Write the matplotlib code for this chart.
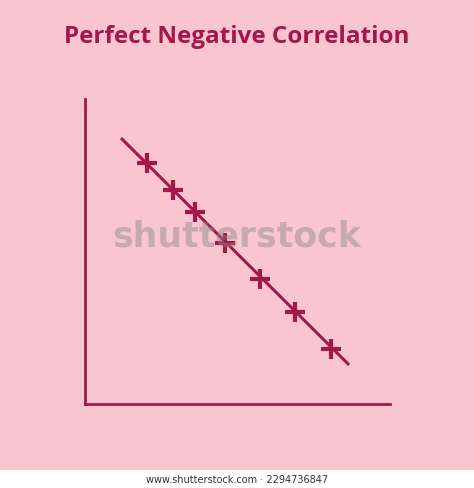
import matplotlib
matplotlib.use("Agg")
import matplotlib.pyplot as plt
from matplotlib.patches import Rectangle

title = "Perfect Negative Correlation"
xs = [2.03, 2.89, 3.61, 4.59, 5.74, 6.89, 8.07]
ys = [7.90, 7.02, 6.30, 5.28, 4.10, 3.02, 1.81]
line_x = [1.18, 8.66]
line_y = [8.72, 1.28]

col = "#A3174A"
bg = "#F9C6CF"
fig = plt.figure(figsize=(4.74, 4.89), dpi=100, facecolor=bg)
ax = fig.add_axes([85/474, 84/489, 305/474, 305/489])
ax.set_facecolor(bg)
ax.set_xlim(0, 10); ax.set_ylim(0, 10)
for s in ["top", "right"]:
    ax.spines[s].set_visible(False)
for s in ["left", "bottom"]:
    ax.spines[s].set_color(col); ax.spines[s].set_linewidth(2)
ax.set_xticks([]); ax.set_yticks([])
ax.plot(line_x, line_y, color=col, lw=2.2, solid_capstyle="butt")
ax.plot(xs, ys, ls="none", marker="+", ms=14, mew=3, color=col)

fig.text(0.5, 1 - 37/489, title, ha="center", va="center", fontsize=17.5,
         fontweight="bold", color=col, family="Open Sans")
fig.text(0.5, 1 - 237/489, "shutterstock", ha="center", va="center", fontsize=25,
         fontweight="bold", color="#8a8a8a", alpha=0.45, family="DejaVu Sans")
fig.patches.append(Rectangle((0, 0), 1, 18/489, transform=fig.transFigure,
                             facecolor="white", edgecolor="none"))
fig.text(0.5, 9/489, "www.shutterstock.com · 2294736847", ha="center", va="center",
         fontsize=7, color="#333333")
fig.savefig("out.png", dpi=100, facecolor=bg)
